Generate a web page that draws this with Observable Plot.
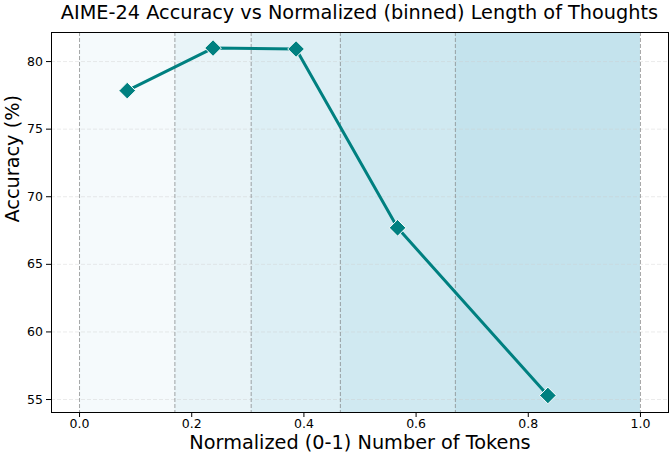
<!DOCTYPE html>
<html>
<head>
<meta charset="utf-8">
<script src="https://cdn.jsdelivr.net/npm/d3@7"></script>
<script src="https://cdn.jsdelivr.net/npm/@observablehq/plot@0.6"></script>
<style>
  html, body { margin: 0; padding: 0; background: #fff; }
  #title { font-family: "DejaVu Sans", sans-serif; font-size: 19.3px; color: #000;
           height: 26px; line-height: 25px; width: 617px; margin-left: 51px; text-align: center; white-space: nowrap; overflow: visible; }
  svg { display: block; }
</style>
</head>
<body>
<div id="title">AIME-24 Accuracy vs Normalized (binned) Length of Thoughts</div>
<div id="chart"></div>
<script>
const titleText = "AIME-24 Accuracy vs Normalized (binned) Length of Thoughts";
const xLabel = "Normalized (0-1) Number of Tokens";
const yLabel = "Accuracy (%)";

// bin edges (normalized tokens)
const binEdges = [0.0, 0.170, 0.306, 0.465, 0.670, 1.0];
// bin centers and accuracies
const tokenPos = [0.085, 0.238, 0.386, 0.567, 0.835];
const accuracy = [77.85, 81.0, 80.93, 67.7, 55.3];

const xTicks = [0.0, 0.2, 0.4, 0.6, 0.8, 1.0];
const yTicks = [55, 60, 65, 70, 75, 80];

const yMin = 54.04, yMax = 82.15;

const bins = binEdges.slice(0, -1).map((e, i) => ({x1: e, x2: binEdges[i + 1], i}));
const points = tokenPos.map((x, i) => ({x, y: accuracy[i]}));

const chart = Plot.plot({
  width: 671,
  height: 432,
  marginLeft: 51,
  marginRight: 3,
  marginTop: 6,
  marginBottom: 46,
  style: {fontFamily: "DejaVu Sans, sans-serif", fontSize: "12.5px", color: "#000", background: "#fff"},
  x: {domain: [-0.05, 1.05], ticks: xTicks, tickFormat: d3.format(".1f")},
  y: {domain: [yMin, yMax], ticks: yTicks},
  marks: [
    Plot.rect(bins, {x1: "x1", x2: "x2", y1: yMin, y2: yMax, fill: "#add8e6", fillOpacity: d => 0.12 + 0.15 * d.i}),
    Plot.gridY(yTicks, {stroke: "#cccccc", strokeOpacity: 0.5, strokeWidth: 0.8, strokeDasharray: "4,2"}),
    Plot.ruleX(binEdges, {stroke: "#808080", strokeOpacity: 0.7, strokeWidth: 1, strokeDasharray: "4,2"}),
    Plot.axisX(xTicks, {tickSize: 5, tickPadding: 2, tickFormat: d3.format(".1f"), label: null, fontSize: 12.5}),
    Plot.axisY(yTicks, {tickSize: 5, tickPadding: 3.5, label: null, fontSize: 12.5}),
    Plot.line(points, {x: "x", y: "y", stroke: "#008080", strokeWidth: 3}),
    Plot.dot(points, {x: "x", y: "y", symbol: "diamond2", r: 7.5, fill: "#008080", stroke: "white", strokeWidth: 1}),
    Plot.frame({stroke: "black", strokeWidth: 1}),
    Plot.text([yLabel], {frameAnchor: "left", dx: -39, rotate: -90, fontSize: 19.3, fill: "#000"}),
    Plot.text([xLabel], {frameAnchor: "bottom", dy: 36, fontSize: 19.3, fill: "#000"})
  ]
});
document.getElementById("chart").appendChild(chart);
</script>
</body>
</html>
